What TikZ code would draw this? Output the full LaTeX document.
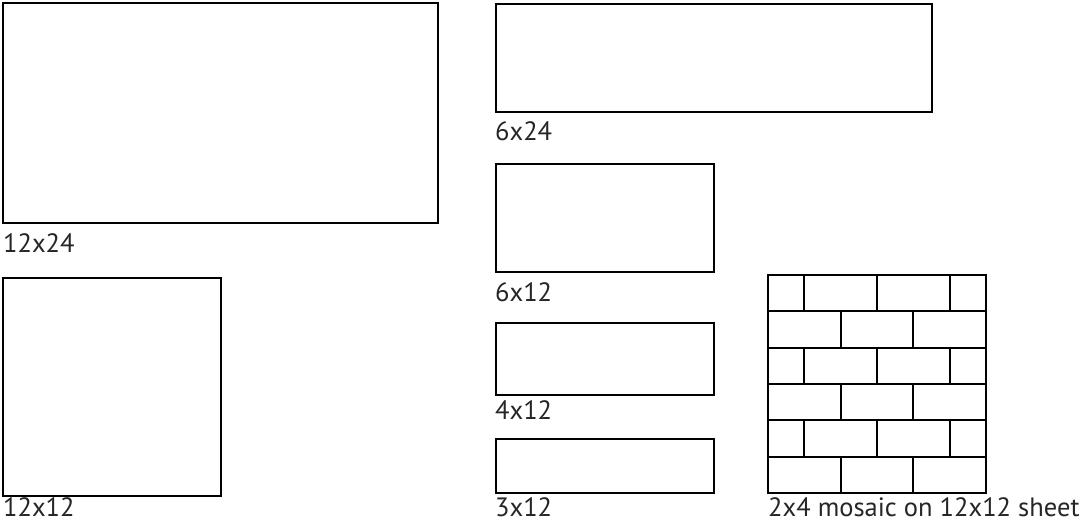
\documentclass[tikz,border=0pt]{standalone}
\usepackage{fontspec}
\setmainfont{PT Sans}
\begin{document}
\begin{tikzpicture}[x=1pt,y=-1pt,
  tile/.style={draw=black,line width=2pt},
  lbl/.style={anchor=base west,inner sep=0pt,font=\fontsize{26.5}{30}\selectfont,text=black!85}]
\useasboundingbox (0,0) rectangle (1081,523);
% tiles
\draw[tile] (3,3) rectangle (438,223);
\draw[tile] (3,278) rectangle (221,496);
\draw[tile] (496,4) rectangle (932,112);
\draw[tile] (496,164) rectangle (714,272);
\draw[tile] (496,323) rectangle (714,395);
\draw[tile] (496,439) rectangle (714,493);
% mosaic
\draw[tile] (768,275) rectangle (986,493);
\foreach \r in {1,...,5}{\draw[tile] (768,275+\r*36.333) -- (986,275+\r*36.333);}
\foreach \r in {0,2,4}{
  \foreach \dx in {36.333,109,181.667}{\draw[tile] (768+\dx,275+\r*36.333) -- (768+\dx,275+\r*36.333+36.333);}}
\foreach \r in {1,3,5}{
  \foreach \dx in {72.667,145.333}{\draw[tile] (768+\dx,275+\r*36.333) -- (768+\dx,275+\r*36.333+36.333);}}
% labels
\node[lbl] (l1) at (3,252) {12x24};
\node[lbl] (l2) at (3,516) {12x12};
\node[lbl] (l3) at (495,140) {6x24};
\node[lbl] (l4) at (495,301) {6x12};
\node[lbl] (l5) at (495,419) {4x12};
\node[lbl] (l6) at (495,516) {3x12};
\node[lbl] (l7) at (768,516) {2x4 mosaic on 12x12 sheet};
\end{tikzpicture}
\end{document}
